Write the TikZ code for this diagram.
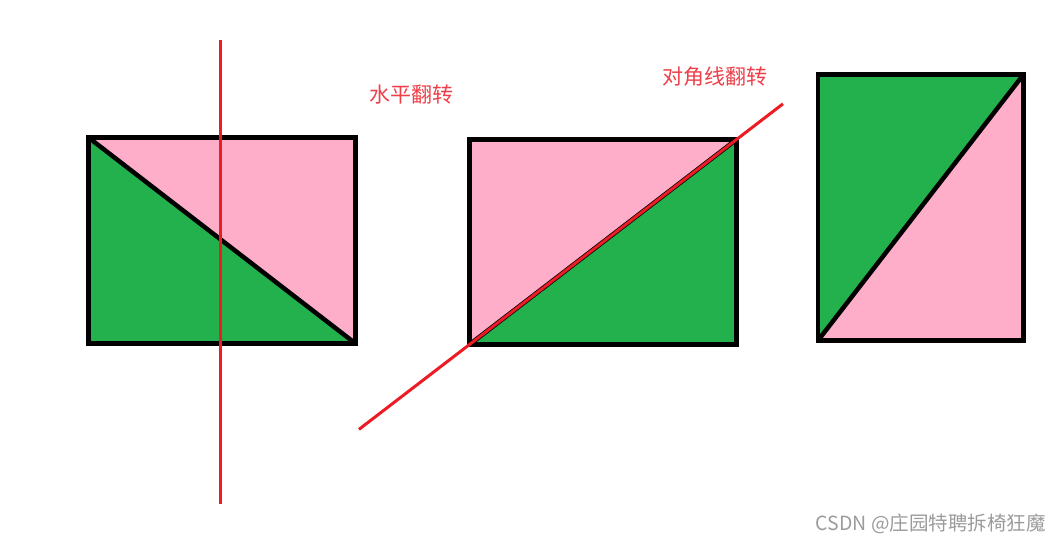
\documentclass[tikz,border=0pt]{standalone}
\usepackage{fontspec}
\setmainfont{Noto Sans CJK SC}
\usetikzlibrary{calc}

\definecolor{paintGreen}{RGB}{34,177,76}
\definecolor{paintPink}{RGB}{255,174,201}
\definecolor{paintRed}{RGB}{237,28,36}
\definecolor{noteRed}{RGB}{238,62,72}
\definecolor{wmGray}{RGB}{155,155,155}

\begin{document}
\begin{tikzpicture}[
    x=1pt, y=-1pt,
    line width = 4.5pt,
    line join = miter,
    flip/.style={draw=paintRed, line width=3pt},
    note/.style={text=noteRed, inner sep=0pt, font=\fontsize{21}{21}\selectfont},
    wmark/.style={text=wmGray, inner sep=0pt, font=\fontsize{19.5}{19.5}\selectfont}
    ]

    % Determines the boundries
    \path[use as bounding box] (0,0) rectangle (1064,542);

    % Corners of the three boxes
    \foreach \n/\l/\t/\r/\b in
        {A/88.5/137.5/355.5/343.5, B/469.5/139.5/736.5/344.5, C/818/74.5/1023.5/340.5}{
        \coordinate (TL\n) at (\l,\t);
        \coordinate (TR\n) at (\r,\t);
        \coordinate (BL\n) at (\l,\b);
        \coordinate (BR\n) at (\r,\b);
    }

    % Halves of each box
    \fill[paintPink]  (TLA) -- (TRA) -- (BRA) -- cycle;
    \fill[paintGreen] (TLA) -- (BLA) -- (BRA) -- cycle;
    \fill[paintPink]  (BLB) -- (TLB) -- (TRB) -- cycle;
    \fill[paintGreen] (BLB) -- (BRB) -- (TRB) -- cycle;
    \fill[paintGreen] (BLC) -- (TLC) -- (TRC) -- cycle;
    \fill[paintPink]  (BLC) -- (BRC) -- (TRC) -- cycle;

    % Outlines and diagonals
    \foreach \n in {A,B,C}{
        \draw (TL\n) rectangle (BR\n);
    }
    \draw (TLA) -- (BRA)
          (BLB) -- (TRB)
          (BLC) -- (TRC);

    % Flip axes
    \coordinate (H1) at (220,40);
    \coordinate (H2) at (220,504);
    \coordinate (D1) at ($(BLB)!-0.414!(TRB)$);
    \coordinate (D2) at ($(BLB)!1.174!(TRB)$);
    \draw[flip] (H1) -- (H2);
    \draw[flip] (D1) -- (D2);

    % Labels
    \node[note] (hflip) at (411,95) {水平翻转};
    \node[note] (dflip) at (715,77) {对角线翻转};
    \node[wmark, anchor=east] (csdn) at (1048,524) {CSDN @庄园特聘拆椅狂魔};
\end{tikzpicture}
\end{document}
